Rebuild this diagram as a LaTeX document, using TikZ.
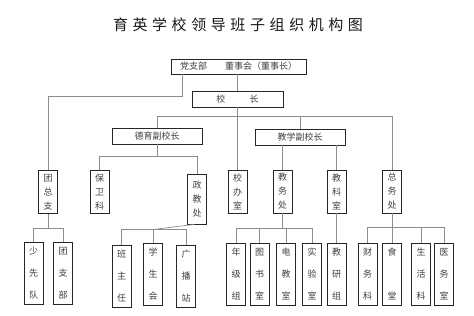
\documentclass[tikz,border=0pt]{standalone}
\usepackage{fontspec}
\newfontfamily\cjk{Noto Sans CJK SC}
\usepackage{tikz}

\begin{document}
\begin{tikzpicture}[x=1pt, y=-1pt,
  hbox/.style={draw=black!85, line width=0.9pt, fill=white, inner sep=0pt,
               minimum height=16pt, font=\cjk\fontsize{9}{11}\selectfont, text=black!75},
  vbox/.style={draw=black!85, line width=0.9pt, fill=white, inner sep=0pt, align=center,
               minimum width=19pt, minimum height=43pt,
               font=\cjk\fontsize{9}{14}\selectfont, text=black!75},
  lbox/.style={vbox, minimum height=62pt, font=\cjk\fontsize{9}{22}\selectfont},
  conn/.style={draw=black!45, line width=0.7pt},
]
\useasboundingbox[fill=white] (0,0) rectangle (474,316);
% --- title ---
\node[font=\cjk\fontsize{15}{17}\selectfont, text=black!90, text width=250pt, inner sep=0pt] (title) at (238,25)
  {育\hfill 英\hfill 学\hfill 校\hfill 领\hfill 导\hfill 班\hfill 子\hfill 组\hfill 织\hfill 机\hfill 构\hfill 图};
% --- top ---
\node[hbox, minimum width=135pt, minimum height=15pt] (dsh) at (238.5,66.5) {党支部\hspace{2em}董事会（董事长）};
\node[hbox, minimum width=91pt] (xz) at (237.5,99) {校\hspace{2.7em}长};
\node[hbox, minimum width=90pt] (dy) at (157,136) {德育副校长};
\node[hbox, minimum width=90pt] (jx) at (300,137) {教学副校长};
% --- departments ---
\node[vbox] (tzz) at (48,192) {团\\总\\支};
\node[vbox] (bwk) at (99.5,192) {保\\卫\\科};
\node[vbox, minimum height=50pt] (zjc) at (197,199) {政\\教\\处};
\node[vbox] (xbs) at (237.5,192) {校\\办\\室};
\node[vbox] (jwc) at (282.5,191.5) {教\\务\\处};
\node[vbox] (jks) at (336.5,191.5) {教\\科\\室};
\node[vbox] (zwc) at (392,191.5) {总\\务\\处};
% --- groups ---
\node[lbox] (sxd) at (33.5,273) {少\\先\\队};
\node[lbox] (tzb) at (63,273) {团\\支\\部};
\node[lbox] (bzr) at (121.5,276) {班\\主\\任};
\node[lbox] (xsh) at (153,274.5) {学\\生\\会};
\node[lbox] (gbz) at (186,276) {广\\播\\站};
\node[lbox] (njz) at (236,274) {年\\级\\组};
\node[lbox] (tss) at (259.5,274) {图\\书\\室};
\node[lbox] (djs) at (286,274) {电\\教\\室};
\node[lbox] (syz) at (312,274) {实\\验\\室};
\node[lbox] (jyz) at (336.5,274) {教\\研\\组};
\node[lbox] (cwk) at (367.5,274) {财\\务\\科};
\node[lbox] (st) at (392,274) {食\\[22pt]堂};
\node[lbox] (shk) at (421,274) {生\\活\\科};
\node[lbox] (yws) at (444,274) {医\\务\\室};
% --- levels ---
\coordinate (lv1) at (0,96);
\coordinate (lv2) at (0,116.5);
\coordinate (lv3) at (0,156);
\coordinate (lv4) at (0,228.5);
\coordinate (lv6) at (0,227);
\coordinate (zjj) at (157,229);
% --- lines ---
\draw[conn] ([xshift=12pt]dsh.south west) |- (tzz.north |- lv1) -- (tzz.north);
\draw[conn] (xz.north |- dsh.south) -- (xz.north);
\draw[conn] (xz.south) -- (xbs.north);
\draw[conn] (dy.north) |- (zwc.north |- lv2) -- (zwc.north);
\draw[conn] (jx.north) -- (jx.north |- lv2);
\draw[conn] (dy.south) -- (dy.south |- lv3);
\draw[conn] (bwk.north) |- (zjc.north |- lv3) -- (zjc.north);
\draw[conn] (jwc.north |- jx.south) -- (jwc.north);
\draw[conn] (jks.north |- jx.south) -- (jks.north);
\draw[conn] (tzz.south) -- (tzz.south |- lv4);
\draw[conn] (sxd.north) |- (tzb.north |- lv4) -- (tzb.north);
\draw[conn] ([xshift=-3pt]zjc.south) -- (zjj);
\draw[conn] (bzr.north) |- (gbz.north |- zjj) -- (gbz.north);
\draw[conn] (xsh.north) -- (xsh.north |- zjj);
\draw[conn] (jwc.south) -- (jwc.south |- lv4);
\draw[conn] (njz.north) |- (syz.north |- lv4) -- (syz.north);
\draw[conn] (tss.north) -- (tss.north |- lv4);
\draw[conn] (djs.north) -- (djs.north |- lv4);
\draw[conn] (jks.south) -- (jyz.north);
\draw[conn] (zwc.south) -- (st.north);
\draw[conn] (cwk.north) |- (yws.north |- lv6) -- (yws.north);
\draw[conn] (shk.north) -- (shk.north |- lv6);
\end{tikzpicture}
\end{document}
